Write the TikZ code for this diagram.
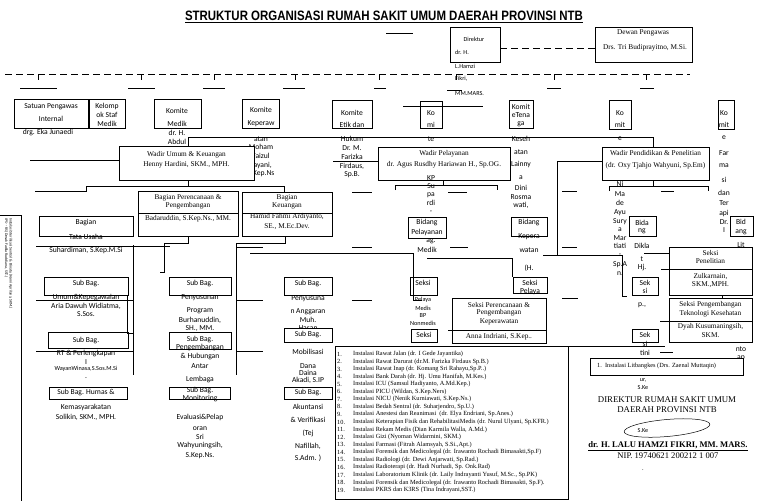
\documentclass[tikz,border=0pt]{standalone}
\usepackage{fontspec}
\setmainfont{Liberation Serif}
\newfontfamily\calf{Carlito}
\newfontfamily\arialf{Liberation Sans}
\usetikzlibrary{shapes.geometric}
\tikzset{
  bx/.style={draw, line width=0.8pt, inner sep=0pt, outer sep=0pt, anchor=north west},
  ln/.style={line width=0.8pt},
  dsh/.style={line width=0.7pt, dash pattern=on 7pt off 4pt},
  k/.style={font=\calf\fontsize{7.6}{9}\selectfont, inner sep=0pt},
  ksm/.style={font=\calf\fontsize{6.2}{8}\selectfont, inner sep=0pt},
  tinyt/.style={font=\calf\fontsize{3.9}{4.6}\selectfont, inner sep=0pt},
  s/.style={font=\fontsize{7.3}{8.6}\selectfont, inner sep=0pt},
  inst/.style={font=\fontsize{6.3}{7}\selectfont, inner sep=0pt, anchor=west},
}
\newcommand\bxx[6][]{\node[bx, minimum width={#5-#3}, minimum height={#6-#4}, #1] (#2) at (#3,#4) {};}
\newcommand\stk[4]{\foreach \tx/\yy [count=\i] in {#4} {\node[#2] (#1\i) at (#3,\yy) {\tx};}}
\begin{document}
\begin{tikzpicture}[x=1pt,y=-1pt]
\useasboundingbox (0,0) rectangle (768,501);
\fill[white] (0,0) rectangle (768,501);

% ---------- title ----------
\node[font=\arialf\bfseries, inner sep=0pt] (title) at (384,16) {\resizebox{398pt}{9.5pt}{STRUKTUR ORGANISASI RUMAH SAKIT UMUM DAERAH PROVINSI NTB}};
\draw[line width=0.9pt] (185,22.5) -- (583,22.5);

% ---------- top lines ----------
\draw[ln] (386,33) -- (413,33);
\draw[dsh] (5,74) -- (690,74);
\foreach \x in {38,141,214,295,379,456,554,646} \draw[ln] (\x,74) -- (\x,80);
\foreach \a/\b in {20/57,128/155,203/225,283/305,374/386,547/561,640/654} \draw[ln] (\a,88) -- (\b,88);
\draw[ln] (447,90.5) -- (462,90.5);
\draw[ln] (403,106) -- (483,106);
\draw[ln] (188,146) -- (188,137) -- (653,137) -- (653,147);
\draw[ln] (30,160) -- (119,160);
\draw[ln] (333,161) -- (378,161);
\draw[ln] (602,161) -- (557,161) -- (557,255);

% ---------- director / supervisory board ----------
\bxx{dir}{450}{27}{500}{62}
\bxx{dew}{595}{27}{692}{62}
\node[ksm] (dirT) at (474,39) {Direktur};
\foreach \tx/\yy [count=\i] in {{dr. H.}/52, L.Hamzi/66, {Fikri,}/79, MM.MARS./94} {\node[ksm, anchor=west] (dirn\i) at (455,\yy) {\tx};}
\node[s] (dew1) at (643,33) {Dewan Pengawas};
\node[s] (dew2) at (645,48) {Drs. Tri Budiprayitno, M.Si.};
\draw[dsh] ([yshift=-3.5pt]dir.east) -- ([yshift=-3.5pt]dew.west);

% ---------- committees ----------
\bxx{spi}{14}{99}{88}{128}
\node[k] (spi1) at (51,107) {Satuan Pengawas};
\node[k] (spi2) at (51,119) {Internal};
\node[k] (spi3) at (48,133) {drg. Eka Junaedi};
\bxx{kelsm}{89}{99}{125}{128}
\stk{kst}{k}{107}{Kelomp/106, {ok Staf}/115, Medik/124}
\bxx{kmed}{154}{99}{201}{128}
\stk{kmt}{k}{177}{Komite/111, Medik/124, {dr. H.}/133, Abdul/142}
\bxx{kkep}{242}{99}{279}{128}
\stk{kkt}{k}{261}{Komite/110, Keperaw/124, atan/139, Moham/147, Faizul/156, {Fayani,}/165, S.Kep.Ns/174}
\bxx{ketik}{332}{100}{372}{128}
\stk{ket}{k}{352}{Komite/113, {Etik dan}/125, Hukum/139, {Dr. M.}/148, Farizka/157, {Firdaus,}/166, Sp.B./175}
\bxx{kppi}{420}{101}{442}{128}
\stk{kpt}{k}{431}{Ko/113, mi/125, te/139, KP/178, Su/186, pa/195, rdi/203, {,}/212, ag./241}
\bxx{kten}{509}{100}{533}{128}
\stk{ktt}{k}{521}{Komit/107, eTena/115, ga/124, Keseh/139, atan/152, Lainny/164, a/178, Dini/188, Rosma/197, {wati,}/205}
\bxx{kmut}{609}{100}{631}{129}
\stk{kmu}{k}{620}{Ko/113, mit/125, e/139, Ni/184, Ma/194, de/203, Ayu/213, Sury/222, a/230, Mar/238, tiati/246, {,}/255, Sp.A/265, n./274}
\bxx{kfar}{718}{100}{734}{129}
\stk{kft}{k}{724}{Ko/113, mit/125, e/138, Far/153, ma/166, si/180, dan/193, Ter/203, api/213, Dr./222, I/230}

% ---------- deputy directors ----------
\bxx[fill=white]{wum}{119}{146}{254}{180}
\node[s] (wum1) at (186.5,155) {Wadir Umum \& Keuangan};
\node[s] (wum2) at (186.5,165) {Henny Hardini, SKM., MPH.};
\bxx{wpel}{378}{147}{510}{180}
\node[s] (wpel1) at (444,154) {Wadir Pelayanan};
\node[s] (wpel2) at (444,165) {dr. Agus Rusdhy Hariawan H., Sp.OG.};
\bxx[fill=white]{wpen}{602}{147}{709}{180}
\node[s] (wpen1) at (655.5,153) {Wadir Pendidikan \& Penelitian};
\node[s] (wpen2) at (655.5,166) {(dr. Oxy Tjahjo Wahyuni, Sp.Em)};

% brackets below deputies
\draw[ln] (188,180) -- (188,186);
\draw[ln] (35,191) -- (86,191) -- (86,186) -- (284,186) -- (284,192);
\draw[ln] (443,180) -- (443,185);
\draw[ln] (395,190) -- (395,185) -- (497,185) -- (497,190);
\draw[ln] (653,180) -- (653,186);
\draw[ln] (609,191) -- (609,186) -- (708,186) -- (708,191);
\foreach \a/\b/\c in {352/372/192, 448/467/192, 352/372/247, 450/468/247, 562/577/191, 562/577/247, 661/674/191, 352/372/300, 562/578/298, 660/673/352}
  \draw[ln] (\a,\c) -- (\b,\c);

% ---------- bagian ----------
\bxx{bper}{138}{191}{238}{236}
\draw[ln] (138,213) -- (238,213);
\node[s] (bper1) at (188,198) {Bagian Perencanaan \&};
\node[s] (bper2) at (188,206) {Pengembangan};
\node[s] (bper3) at (188,219) {Badaruddin, S.Kep.Ns., MM.};
\bxx{bkeu}{242}{192}{332}{236}
\draw[ln] (242,213) -- (332,213);
\node[s] (bkeu1) at (287,198) {Bagian};
\node[s] (bkeu2) at (287,206) {Keuangan};
\node[s] (bkeu3) at (287,217) {Hamid Fahmi Ardiyanto,};
\node[s] (bkeu4) at (287,227) {SE., M.Ec.Dev.};
\bxx{btu}{39}{216}{133}{236}
\node[k] (btu1) at (86,223) {Bagian};
\node[k] (btu2) at (86,237) {Tata Usaha};
\node[k] (btu3) at (86,250) {Suhardiman, S.Kep.M.Si};

% connectors to sub-sections
\draw[ln] (188,236) -- (188,243) -- (164,243) -- (164,272) -- (160,272);
\draw[ln] (36,246) -- (170,246);
\draw[ln] (133,245) -- (133,375);
\draw[ln] (36,300) -- (133,300);
\draw[ln] (36,351) -- (133,351);
\draw[ln] (127,295) -- (127,333) -- (133,333);
\draw[ln] (285,236) -- (285,243) -- (236,243) -- (236,375);
\draw[ln] (236,247) -- (263,247);
\draw[ln] (236,300) -- (263,300);
\draw[ln] (236,351) -- (263,351);
\draw[ln] (250,253) -- (413,253) -- (413,300) -- (422,300);
\draw[ln] (427,258) -- (512,258) -- (512,277);
\draw[ln] (543,255) -- (622,255) -- (622,296) -- (627,296);
\draw[ln] (560,346) -- (665,346);
\draw[ln] (644,253) -- (669,253);
\draw[ln] (661,269) -- (669,269);
\draw[ln] (660,321) -- (669,321);
\draw[ln] (722,295) -- (722,298);
\draw[ln] (448,330) -- (452,330);
\draw[ln] (0,215) -- (21,215) -- (21,501);

% ---------- left rotated text ----------
\node[tinyt, rotate=-90, anchor=west, align=left] (lefttxt) at (8.5,218) {Instalasi Sterilisasi Sentral \& Binatu (Hami Aprilana, SKM.)\\IPS -- RS (Desak Fadila Ruddiana, SST.)};

% ---------- bidang ----------
\bxx{bpm}{408}{217}{446}{238}
\node[k] (bpm1) at (427,223) {Bidang};
\node[k] (bpm2) at (427,232) {Pelayanan};
\node[k] (bpm3) at (427,250) {Medik};
\bxx{bkp}{511}{217}{547}{236}
\stk{bkt}{k}{529}{Bidang/223, Kepera/237, watan/250, {(H.}/268}
\bxx{bdik}{629}{216}{656}{236}
\stk{bdt}{k}{642}{Bida/223, ng/231, Dikla/246, t/259, Hj./268, {p.,}/305}
\bxx{blit}{730}{216}{753}{236}
\stk{blt}{k}{741}{Bid/222, ang/232, Lit/245, nto/349, ap/358}

% ---------- seksi ----------
\bxx{sk1}{410}{277}{437}{295}
\node[k] (sk1t) at (423,283) {Seksi};
\stk{sk1g}{ksm}{423}{Pelaya/300, Medis/308, BP/316, Nonmedis/323}
\bxx{sk2}{411}{329}{437}{342}
\node[k] (sk2t) at (424,335) {Seksi};
\bxx{sk3}{513}{277}{547}{293}
\node[k] (sk3t) at (530,283) {Seksi};
\node[k] (sk3u) at (530,291) {Pelaya};
\bxx[fill=white]{sk4}{452}{298}{546}{343}
\draw[ln] (452,330) -- (546,330);
\node[s] (sk41) at (499,305) {Seksi Perencanaan \&};
\node[s] (sk42) at (499,313) {Pengembangan};
\node[s] (sk43) at (499,322) {Keperawatan};
\node[s] (sk44) at (499,337) {Anna Indriani, S.Kep..};
\bxx{sk5}{632}{277}{658}{295}
\node[k] (sk5t) at (645,283) {Sek};
\node[k] (sk5u) at (645,291) {si};
\bxx{sk6}{632}{329}{658}{342}
\node[k] (sk6t) at (645,335) {Sek};
\node[k] (sk6u) at (645,344) {si};
\node[k] (sk6v) at (645,353) {tini};
\bxx[fill=white]{sk7}{669}{247}{752}{295}
\draw[ln] (669,269) -- (752,269);
\node[s] (sk71) at (710.5,253) {Seksi};
\node[s] (sk72) at (710.5,261) {Penelitian};
\node[s] (sk73) at (710.5,277) {Zulkarnain,};
\node[s] (sk74) at (710.5,285) {SKM.,MPH.};
\bxx[fill=white]{sk8}{669}{298}{752}{342}
\draw[ln] (669,321) -- (752,321);
\node[s] (sk81) at (710.5,305) {Seksi Pengembangan};
\node[s] (sk82) at (710.5,314) {Teknologi Kesehatan};
\node[s] (sk83) at (710.5,327) {Dyah Kusumaningsih,};
\node[s] (sk84) at (710.5,335) {SKM.};

% ---------- sub bagian ----------
\bxx{sb1}{44}{277}{128}{295}
\stk{sb1t}{k}{86}{{Sub Bag.}/284, Umum\&Kepegawaian/298, {Aria Dawuh Widiatma,}/306, S.Sos./314}
\bxx{sb2}{48}{332}{128}{348}
\stk{sb2t}{k}{86}{{Sub Bag.}/341, {RT \& Perlengkapan}/354, I/362}
\node[ksm] (sb2w) at (86,369) {WayanWinasa,S.Sos.M.Si};
\node[k] (sb2x) at (86,378) {.};
\bxx{sb3}{49}{387}{127}{399}
\stk{sb3t}{k}{86}{{Sub Bag. Humas \&}/393, Kemasyarakatan/407, {Solikin, SKM., MPH.}/417}
\bxx{sb4}{169}{277}{231}{295}
\stk{sb4t}{k}{200}{{Sub Bag.}/284, Penyusunan/298, Program/311, {Burhanuddin,}/320, {SH., MM.}/329}
\bxx{sb5}{169}{332}{231}{349}
\stk{sb5t}{k}{200}{{Sub Bag.}/340, Pengembangan/348, {\& Hubungan}/357, Antar/366, Lembaga/380}
\bxx{sb6}{169}{387}{230}{399}
\stk{sb6t}{k}{200}{{Sub Bag.}/391, Monitoring/399, Evaluasi\&Pelap/417, oran/429, Sri/437, {Wahyuningsih,}/446, S.Kep.Ns./456}
\bxx{sb7}{284}{277}{332}{295}
\stk{sb7t}{k}{308}{{Sub Bag.}/284, Penyusuna/299, {n Anggaran}/312, Muh./320, Hasan/328}
\bxx[fill=white]{sb8}{284}{328}{332}{342}
\stk{sb8t}{k}{308}{{Sub Bag.}/335, Mobilisasi/352, Dana/366, Daina/373, {Akadi, S.IP}/380}
\bxx{sb9}{284}{387}{332}{399}
\stk{sb9t}{k}{308}{{Sub Bag.}/393, Akuntansi/407, {\& Verifikasi}/420, {(Tej}/433, {Nafillah,}/446, {S.Adm. )}/458}

% ---------- installations ----------
\bxx[fill=white]{instbox}{335}{346}{568}{499}
\foreach \tx [count=\i] in {
 {Instalasi Rawat Jalan (dr. I Gede Jayantika)},
 {Instalasi Rawat Darurat (dr.M. Farizka Firdaus Sp.B.)},
 {Instalasi Rawat Inap (dr. Komang Sri Rahayu,Sp.P..)},
 {Instalasi Bank Darah (dr. Hj. Umu Hanifah, M.Kes.)},
 {Instalasi ICU (Samsul Hadiyanto, A.Md.Kep.)},
 {Instalasi PICU (Wildan, S.Kep.Ners)},
 {Instalasi NICU (Nenik Kurniawati, S.Kep.Ns.)},
 {Instalasi Bedah Sentral (dr. Suharjendro, Sp.U.)},
 {Instalasi Anestesi dan Reanimasi\ \ (dr. Elya Endriani, Sp.Anes.)},
 {Instalasi Keterapian Fisik dan RehabilitasiMedis (dr. Nurul Ulyani, Sp.KFR.)},
 {Instalasi Rekam Medis (Dian Karmila Walla, A.Md.)},
 {Instalasi Gizi (Nyoman Widarmini, SKM.)},
 {Instalasi Farmasi (Fitrah Alamsyah, S.Si.,Apt.)},
 {Instalasi Forensik dan Medicolegal (dr. Irawanto Rochadi Bimasakti,Sp.F)},
 {Instalasi Radiologi (dr. Dewi Anjarwati, Sp.Rad.)},
 {Instalasi Radioterapi (dr. Hadi Nurhadi, Sp. Onk.Rad)},
 {Instalasi Laboratorium Klinik (dr. Laily Indrayanti Yusuf, M.Sc., Sp.PK)},
 {Instalasi Forensik dan Medicolegal (dr. Irawanto Rochadi Bimasakti, Sp.F).},
 {Instalasi PKRS dan K3RS (Tina Indrayani,SST.)}}
{
  \node[inst] (inum\i) at (337,{354+7.56*(\i-1)}) {\i.};
  \node[inst] (itx\i) at (353,{354+7.56*(\i-1)}) {\tx};
}
\bxx[fill=white]{ilit}{590}{358}{743}{375}
\node[inst] (ilitt) at (597,366) {1.\ \ Instalasi Litbangkes (Drs. Zaenal Muttaqin)};

% ---------- signature ----------
\stk{gdk}{ksm}{643}{{ur,}/380, S.Ke/388, S.Ke/431, {.}/470}
\node[font=\fontsize{8.8}{9}\selectfont, inner sep=0pt] (sig1) at (667,400) {DIREKTUR RUMAH SAKIT UMUM};
\node[font=\fontsize{8.8}{9}\selectfont, inner sep=0pt] (sig2) at (667,409.5) {DAERAH PROVINSI NTB};
\node[draw, ellipse, line width=0.5pt, minimum width=86pt, minimum height=17pt, inner sep=0pt, rotate=5] (ell) at (667,428) {};
\node[font=\bfseries\fontsize{8.6}{9}\selectfont, inner sep=0pt] (sig3) at (668,446) {\underline{dr. H. LALU HAMZI FIKRI, MM. MARS.}};
\node[font=\fontsize{8.6}{9}\selectfont, inner sep=0pt] (sig4) at (668,456) {NIP. 19740621 200212 1 007};
\end{tikzpicture}
\end{document}
